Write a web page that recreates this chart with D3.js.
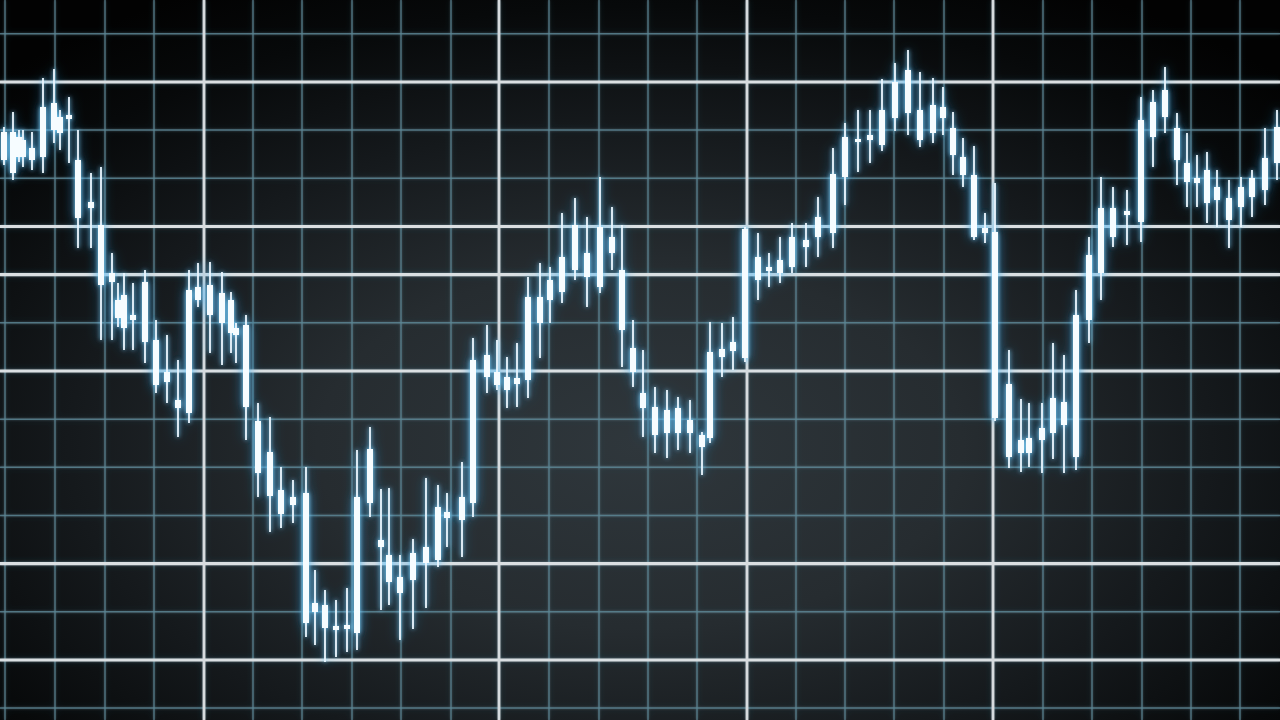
<!DOCTYPE html>
<html><head><meta charset="utf-8">
<script src="https://cdn.jsdelivr.net/npm/d3@7/dist/d3.min.js"></script>
<style>html,body{margin:0;padding:0;background:#000;overflow:hidden}svg{display:block}</style>
</head><body>
<svg id="chart" width="1280" height="720"></svg>
<script>
// ---- DATA (time in session minutes, price in points) ----
const times  = [4,13,19,23,32,43,54,60,69,78,91,101,112,118,124,133,145,156,167,178,189,198,210,222,231,236,246,258,270,281,293,306,315,325,336,347,357,370,381,389,400,413,426,438,447,462,473,487,497,507,517,528,540,550,562,575,587,600,612,622,633,643,655,667,678,690,702,710,722,733,745,758,769,780,792,806,818,833,845,858,870,882,895,908,920,933,943,953,963,974,985,995,1009,1021,1029,1042,1053,1064,1076,1089,1101,1113,1127,1141,1153,1165,1177,1187,1197,1207,1217,1229,1241,1252,1265,1277];
const opens  = [588,547,583,563,572,563,590,603,605,560,518,495,447,420,392,405,438,380,338,320,307,420,435,427,420,392,395,299,268,230,215,227,108,115,90,95,87,217,180,165,143,140,157,160,208,200,217,343,348,330,342,340,423,420,428,450,467,433,483,450,372,327,313,287,312,287,285,282,363,369,362,463,449,447,453,480,483,487,543,581,580,575,602,607,610,587,613,592,563,545,492,488,336,280,267,280,287,318,263,400,447,512,505,498,583,603,592,557,542,550,520,522,513,523,530,557];
const highs  = [593,608,590,590,588,642,651,610,623,590,547,553,467,437,447,437,450,400,385,360,450,457,458,448,428,397,405,317,303,253,240,253,150,130,120,132,270,293,231,232,165,181,242,235,227,258,382,395,380,363,377,443,457,453,507,522,503,543,513,495,400,370,333,330,323,320,288,398,397,403,493,487,467,483,497,497,523,572,597,610,610,641,657,670,648,642,633,608,582,574,507,537,370,321,317,317,377,365,430,483,543,533,530,623,630,653,607,587,565,568,550,540,543,550,592,610];
const lows   = [555,540,558,553,550,547,577,570,557,472,472,380,380,393,370,370,357,327,317,283,297,413,367,355,367,357,280,223,188,192,197,83,75,58,63,68,70,203,110,115,80,91,112,153,173,163,203,327,330,312,313,322,362,397,417,440,413,427,450,353,333,283,267,262,270,267,245,277,343,350,358,420,433,437,447,453,463,472,515,548,557,569,589,585,573,577,585,545,533,480,477,299,252,248,253,247,261,247,250,377,420,473,475,478,553,587,535,513,513,497,493,472,493,503,515,540];
const closes = [560,588,563,580,560,613,617,587,601,502,512,435,438,402,425,400,378,335,348,312,430,433,405,397,387,385,313,247,224,206,223,97,117,92,94,91,223,271,173,138,127,167,173,213,202,223,360,365,335,343,336,423,397,440,463,495,443,493,467,390,348,312,285,310,287,300,273,368,371,378,491,440,453,460,483,473,503,546,583,578,585,610,638,650,580,615,602,565,545,483,487,302,263,267,282,292,322,295,405,465,512,483,509,600,618,630,560,538,537,517,533,500,533,542,562,593];

// grid levels (price points) and session-minute marks
const priceGrid  = [12,60,108.2,156.3,204.5,252.7,300.8,349,397.2,445.3,493.5,541.7,590,638,686.2];
const priceMajor = [60,156.3,349,445.3,493.5,638];
const timeGrid   = [5,55,105,154,204,253,302,352,401,451,499,549,599,648,697,747,796,845,894,944,993,1043,1092,1142,1191,1240];
const timeMajor  = [204,499,747,993];

const W = 1280, H = 720;
const svg = d3.select("#chart");
const x = d3.scaleLinear().domain([0, 1280]).range([0, W]);
const y = d3.scaleLinear().domain([0, 720]).range([H, 0]);

const defs = svg.append("defs");
const bg = defs.append("radialGradient").attr("id","bg").attr("cx","50%").attr("cy","62%").attr("r","72%");
bg.append("stop").attr("offset","0%").attr("stop-color","#2f373c");
bg.append("stop").attr("offset","35%").attr("stop-color","#262c30");
bg.append("stop").attr("offset","62%").attr("stop-color","#15191c");
bg.append("stop").attr("offset","85%").attr("stop-color","#07090a");
bg.append("stop").attr("offset","100%").attr("stop-color","#020202");

function glow(id, sd1, c1, o1, sd2, c2, o2){
  const f = defs.append("filter").attr("id", id).attr("filterUnits","userSpaceOnUse")
    .attr("x",-20).attr("y",-20).attr("width",W+40).attr("height",H+40);
  f.append("feGaussianBlur").attr("in","SourceAlpha").attr("stdDeviation",sd2).attr("result","b2");
  f.append("feFlood").attr("flood-color",c2).attr("flood-opacity",o2).attr("result","f2");
  f.append("feComposite").attr("in","f2").attr("in2","b2").attr("operator","in").attr("result","g2");
  f.append("feGaussianBlur").attr("in","SourceAlpha").attr("stdDeviation",sd1).attr("result","b1");
  f.append("feFlood").attr("flood-color",c1).attr("flood-opacity",o1).attr("result","f1");
  f.append("feComposite").attr("in","f1").attr("in2","b1").attr("operator","in").attr("result","g1");
  const m = f.append("feMerge");
  m.append("feMergeNode").attr("in","g2");
  m.append("feMergeNode").attr("in","g1");
  m.append("feMergeNode").attr("in","SourceGraphic");
}
glow("candleGlow", 2.2, "#7fd6ff", 1, 6, "#2f9fe6", 0.85);
glow("gridGlow", 1.2, "#8fbccd", 0.45, 3, "#3f829e", 0.25);

svg.append("rect").attr("width",W).attr("height",H).attr("fill","url(#bg)");

// grid
const gMinor = svg.append("g").attr("filter","url(#gridGlow)");
gMinor.selectAll("line.h").data(priceGrid.filter(v => !priceMajor.includes(v))).join("line")
  .attr("x1",0).attr("x2",W).attr("y1",d=>y(d)).attr("y2",d=>y(d))
  .attr("stroke","#5d8796").attr("stroke-width",1.4).attr("stroke-opacity",0.8);
gMinor.selectAll("line.v").data(timeGrid.filter(v => !timeMajor.includes(v))).join("line")
  .attr("y1",0).attr("y2",H).attr("x1",d=>x(d)).attr("x2",d=>x(d))
  .attr("stroke","#5d8796").attr("stroke-width",1.4).attr("stroke-opacity",0.8);

const gMajor = svg.append("g").attr("filter","url(#gridGlow)");
gMajor.selectAll("line.h").data(priceMajor).join("line")
  .attr("x1",0).attr("x2",W).attr("y1",d=>y(d)).attr("y2",d=>y(d))
  .attr("stroke","#dadfe2").attr("stroke-width",3.2);
gMajor.selectAll("line.v").data(timeMajor).join("line")
  .attr("y1",0).attr("y2",H).attr("x1",d=>x(d)).attr("x2",d=>x(d))
  .attr("stroke","#d6dbde").attr("stroke-width",2.8);

// candles
const candles = times.map((t,i) => ({t, o:opens[i], h:highs[i], l:lows[i], c:closes[i]}));
const gC = svg.append("g").attr("filter","url(#candleGlow)");
gC.selectAll("line.wick").data(candles).join("line")
  .attr("x1",d=>x(d.t)).attr("x2",d=>x(d.t))
  .attr("y1",d=>y(d.h)).attr("y2",d=>y(d.l))
  .attr("stroke","#eaf7ff").attr("stroke-width",1.8);
gC.selectAll("rect.body").data(candles).join("rect")
  .attr("x",d=>x(d.t)-3).attr("width",6)
  .attr("y",d=>y(Math.max(d.o,d.c)))
  .attr("height",d=>Math.max(2, Math.abs(y(d.o)-y(d.c))))
  .attr("fill","#f6fcff");
</script>
</body></html>
